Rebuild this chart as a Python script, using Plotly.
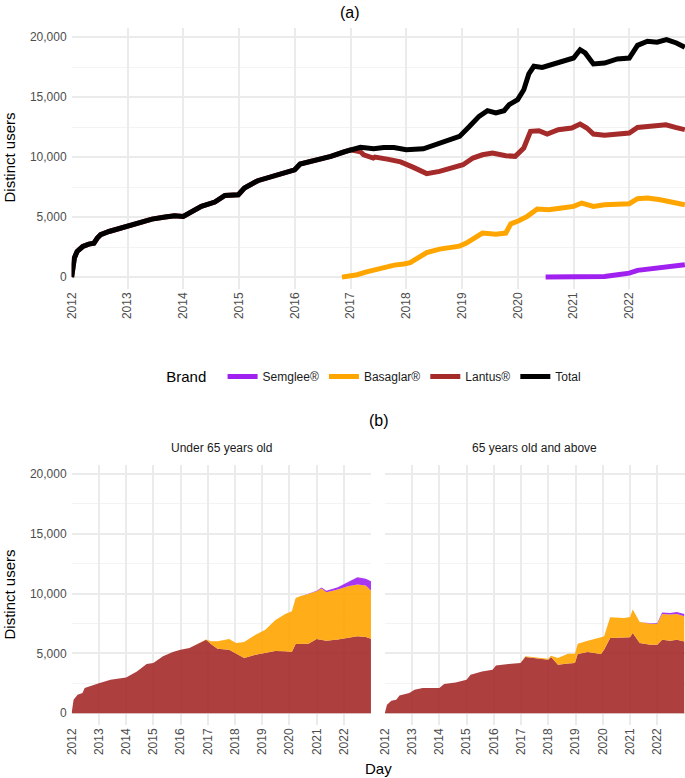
import plotly.graph_objects as go

# ---------------- data ----------------
year_ticks = [str(y) for y in range(2012, 2023)]
year_tick_dates = [f"{y}-01-01" for y in range(2012, 2023)]
y_tick_vals = [0, 5000, 10000, 15000, 20000]
y_tick_labels = ["0", "5,000", "10,000", "15,000", "20,000"]

brands = ["Semglee®", "Basaglar®", "Lantus®", "Total"]
brand_colors = {"Semglee®": "#A020F0", "Basaglar®": "#FFA500", "Lantus®": "#A52A2A", "Total": "#000000"}

# Panel (a): distinct users per brand
total_dates = ["2012-01-01", "2012-01-08", "2012-01-19", "2012-02-06", "2012-03-14", "2012-04-23", "2012-05-26",
               "2012-06-17", "2012-07-09", "2012-09-02", "2012-11-06", "2013-01-01", "2013-03-14", "2013-06-10",
               "2013-09-05", "2013-11-06", "2014-01-01", "2014-02-24", "2014-04-30", "2014-07-27", "2014-10-01",
               "2014-12-28", "2015-02-06", "2015-05-04", "2015-07-31", "2015-10-23", "2016-01-01", "2016-02-06",
               "2016-05-08", "2016-08-25", "2016-11-17", "2017-01-01", "2017-03-07", "2017-06-02", "2017-08-07",
               "2017-10-12", "2018-01-01", "2018-04-23", "2018-06-28", "2018-09-20", "2018-12-16", "2019-02-20",
               "2019-04-23", "2019-06-17", "2019-08-11", "2019-10-04", "2019-11-06", "2020-01-01", "2020-02-10",
               "2020-03-14", "2020-04-16", "2020-06-10", "2020-08-14", "2020-11-06", "2021-01-01", "2021-02-13",
               "2021-03-18", "2021-05-11", "2021-07-23", "2021-10-15", "2022-01-01", "2022-02-24", "2022-04-30",
               "2022-07-02", "2022-09-02", "2022-11-06", "2022-12-31"]
total_users = [0, 1000, 1600, 2140, 2550, 2750, 2830,
               3250, 3530, 3800, 4030, 4220, 4500, 4830,
               5000, 5110, 5050, 5470, 5890, 6250, 6800,
               6860, 7420, 8030, 8390, 8750, 8940, 9420,
               9700, 10060, 10420, 10610, 10810, 10690, 10800,
               10800, 10610, 10690, 10970, 11300, 11720, 12560,
               13390, 13860, 13670, 13860, 14360, 14780, 15610,
               16920, 17560, 17470, 17750, 18030, 18250, 18940,
               18670, 17750, 17830, 18170, 18250, 19300, 19640,
               19560, 19780, 19500, 19140]

# Lantus equals Total until Basaglar enters (late 2016)
lantus_dates = total_dates[:31] + [
    "2017-01-01", "2017-03-07", "2017-03-28", "2017-05-30", "2017-06-10", "2017-08-29", "2017-11-25",
    "2018-02-17", "2018-05-15", "2018-08-07", "2018-11-03", "2019-01-08", "2019-03-14", "2019-05-15",
    "2019-07-20", "2019-10-15", "2019-12-16", "2020-02-10", "2020-03-25", "2020-05-19", "2020-07-12",
    "2020-09-23", "2020-12-20", "2021-02-13", "2021-03-29", "2021-05-11", "2021-07-23", "2021-10-15",
    "2022-01-01", "2022-02-24", "2022-05-22", "2022-08-29", "2022-10-30", "2022-12-31"]
lantus_users = total_users[:31] + [
    10610, 10440, 10190, 9920, 10000, 9830, 9600,
    9140, 8620, 8810, 9140, 9360, 9920, 10190,
    10330, 10110, 10060, 10750, 12140, 12190, 11920,
    12280, 12420, 12750, 12420, 11920, 11810, 11920,
    12000, 12470, 12610, 12690, 12470, 12280]

basaglar_dates = ["2016-11-06", "2016-12-20", "2017-02-13", "2017-04-16", "2017-06-28", "2017-08-07", "2017-10-15",
                  "2017-12-16", "2018-01-27", "2018-05-15", "2018-08-07", "2018-12-16", "2019-01-30", "2019-05-15",
                  "2019-08-11", "2019-10-15", "2019-11-17", "2020-01-08", "2020-03-04", "2020-05-08", "2020-07-23",
                  "2020-10-15", "2021-01-01", "2021-02-24", "2021-05-11", "2021-07-23", "2022-01-01", "2022-02-24",
                  "2022-04-30", "2022-07-23", "2022-10-19", "2022-12-31"]
basaglar_users = [0, 50, 200, 440, 700, 860, 1000,
                  1100, 1200, 2050, 2330, 2580, 2830, 3670,
                  3580, 3670, 4440, 4690, 5060, 5670, 5610,
                  5750, 5890, 6170, 5890, 6030, 6110, 6530,
                  6580, 6440, 6220, 6030]

semglee_dates = ["2020-07-02", "2021-01-01", "2021-07-23", "2021-10-15", "2022-01-01", "2022-02-24",
                 "2022-06-13", "2022-09-27", "2022-12-31"]
semglee_users = [0, 0, 60, 190, 330, 560, 690, 890, 1030]

# Panel (b): stacked by age group
u65_dates = ["2012-01-01", "2012-01-27", "2012-03-21", "2012-05-26", "2012-06-24", "2012-09-13", "2013-01-01",
             "2013-06-06", "2014-01-01", "2014-05-26", "2014-10-04", "2015-01-01", "2015-05-11", "2015-09-20",
             "2016-01-01", "2016-04-30", "2016-09-13", "2016-11-06", "2016-12-09", "2017-02-13", "2017-05-11",
             "2017-10-15", "2018-01-15", "2018-05-04", "2018-10-04", "2019-02-13", "2019-06-24", "2019-11-06",
             "2020-02-03", "2020-03-25", "2020-05-22", "2020-09-13", "2021-01-01", "2021-03-07", "2021-05-11",
             "2021-10-12", "2022-02-24", "2022-07-02", "2022-10-23", "2022-12-31"]
u65_lantus = [0, 1120, 1540, 1680, 2100, 2290, 2510,
              2790, 2990, 3490, 4100, 4190, 4750, 5110,
              5310, 5450, 5870, 6050, 6140, 5780, 5390,
              5310, 5000, 4610, 4890, 5030, 5190, 5170,
              5110, 5780, 5780, 5800, 6200, 6150, 6060,
              6150, 6280, 6420, 6370, 6230]
u65_basaglar = [0, 0, 0, 0, 0, 0, 0,
                0, 0, 0, 0, 0, 0, 0,
                0, 0, 0, 0, 20, 230, 620,
                890, 870, 1340, 1670, 1950, 2570, 3130,
                3410, 3850, 4000, 4170, 3990, 4270, 4050,
                4180, 4330, 4330, 4300, 4020]
u65_semglee = [0] * 31 + [20, 50, 80, 120, 200, 370, 620, 560, 780]

o65_dates = ["2012-01-01", "2012-01-30", "2012-03-29", "2012-06-02", "2012-07-16", "2012-11-25", "2013-02-03",
             "2013-05-22", "2014-01-01", "2014-03-07", "2014-08-07", "2015-01-01", "2015-02-24", "2015-07-27",
             "2015-12-16", "2016-01-30", "2016-07-16", "2016-12-24", "2017-02-27", "2017-07-02", "2018-01-01",
             "2018-02-06", "2018-05-11", "2018-09-20", "2018-12-24", "2019-01-30", "2019-06-13", "2019-12-09",
             "2020-01-19", "2020-04-09", "2020-10-12", "2021-01-01", "2021-02-06", "2021-05-11", "2021-10-01",
             "2022-01-01", "2022-03-07", "2022-06-24", "2022-09-20", "2022-12-31"]
o65_lantus = [0, 700, 1030, 1120, 1480, 1680, 1960,
              2100, 2100, 2430, 2570, 2790, 3210, 3490,
              3630, 3990, 4100, 4190, 4690, 4610, 4470,
              4690, 4050, 4150, 4190, 4940, 5110, 4940,
              5310, 6280, 6280, 6340, 6700, 5870, 5730,
              5730, 6140, 6060, 6140, 6000]
o65_basaglar = [0] * 17 + [0, 60, 80, 80,
                           110, 560, 820, 780, 860, 950, 1400,
                           1110, 1740, 1680, 1710, 1960, 1750, 1750,
                           1750, 2160, 2180, 2160, 2100]
o65_semglee = [0] * 34 + [30, 60, 120, 140, 160, 200]

age_groups = ["Under 65 years old", "65 years old and above"]

# ---------------- figure ----------------
W, H = 685, 778
FONT = "Liberation Sans, Arial, Helvetica, sans-serif"
fig = go.Figure()

top_series = {
    "Semglee®": (semglee_dates, semglee_users),
    "Basaglar®": (basaglar_dates, basaglar_users),
    "Lantus®": (lantus_dates, lantus_users),
    "Total": (total_dates, total_users),
}
for b in brands:
    d, v = top_series[b]
    fig.add_trace(go.Scatter(x=d, y=v, mode="lines", name=b, xaxis="x", yaxis="y",
                             line=dict(color=brand_colors[b], width=5), legendgroup=b))

fill_colors = {"Lantus®": "rgba(165,42,42,0.9)", "Basaglar®": "rgba(255,165,0,0.9)",
               "Semglee®": "rgba(160,32,240,0.9)"}
panels = [("x2", "y2", u65_dates, {"Lantus®": u65_lantus, "Basaglar®": u65_basaglar, "Semglee®": u65_semglee}),
          ("x3", "y3", o65_dates, {"Lantus®": o65_lantus, "Basaglar®": o65_basaglar, "Semglee®": o65_semglee})]
for xa, ya, d, vals in panels:
    for b in ["Lantus®", "Basaglar®", "Semglee®"]:
        fig.add_trace(go.Scatter(x=d, y=vals[b], mode="lines", xaxis=xa, yaxis=ya, stackgroup=xa,
                                 line=dict(width=0, color=fill_colors[b]), fillcolor=fill_colors[b],
                                 showlegend=False, name=b, hoverinfo="skip"))

GRID = "#EBEBEB"
MINOR = "#F3F3F3"

def xaxis(domain):
    return dict(domain=domain, type="date", range=["2012-01-01", "2023-01-01"],
                tickvals=year_tick_dates, ticktext=year_ticks, tickangle=-90,
                tickfont=dict(size=12, color="#4D4D4D", family=FONT),
                showgrid=True, gridcolor=GRID, gridwidth=1.5, zeroline=False, showline=False, ticks="")

def yaxis(domain, labels=True, anchor="x"):
    return dict(domain=domain, anchor=anchor, range=[-990, 20790], tickvals=y_tick_vals,
                ticktext=y_tick_labels, showticklabels=labels, ticklabelstandoff=4,
                tickfont=dict(size=12, color="#4D4D4D", family=FONT),
                showgrid=True, gridcolor=GRID, gridwidth=1.5, zeroline=False, showline=False, ticks="",
                minor=dict(dtick=2500, tick0=0, showgrid=True, gridcolor=MINOR, gridwidth=0.8, ticks=""))

top_dom = [1 - 289 / H, 1 - 27.5 / H]
bot_dom = [1 - 725 / H, 1 - 464.5 / H]

fig.update_layout(
    width=W, height=H, margin=dict(l=0, r=0, t=0, b=0),
    paper_bgcolor="white", plot_bgcolor="white",
    font=dict(family=FONT, color="#1A1A1A"),
    xaxis=dict(xaxis([65.3 / W, 1.0]), anchor="y"),
    yaxis=yaxis(top_dom, anchor="x"),
    xaxis2=dict(xaxis([65.3 / W, 367.8 / W]), anchor="y2"),
    yaxis2=yaxis(bot_dom, anchor="x2"),
    xaxis3=dict(xaxis([381.7 / W, 684.5 / W]), anchor="y3"),
    yaxis3=dict(yaxis(bot_dom, labels=False, anchor="x3"), matches="y2"),
    legend=dict(orientation="h", x=372 / W, xanchor="center", y=1 - 377 / H, yanchor="middle",
                title=dict(text="Brand  ", font=dict(size=15, color="#000000"), side="left"),
                font=dict(size=12, color="#1A1A1A"), bgcolor="rgba(0,0,0,0)", itemwidth=30),
    hovermode=False,
)

ann = [
    dict(text="(a)", x=347 / W, y=1 - 13 / H, font=dict(size=16, color="#000000")),
    dict(text="(b)", x=376 / W, y=1 - 420 / H, font=dict(size=16, color="#000000")),
    dict(text=age_groups[0], x=216.5 / W, y=1 - 448 / H, font=dict(size=12, color="#1A1A1A")),
    dict(text=age_groups[1], x=533 / W, y=1 - 448 / H, font=dict(size=12, color="#1A1A1A")),
    dict(text="Distinct users", x=0, xanchor="left", xshift=-9, y=1 - 158 / H, textangle=-90,
         font=dict(size=15, color="#000000")),
    dict(text="Distinct users", x=0, xanchor="left", xshift=-9, y=1 - 595 / H, textangle=-90,
         font=dict(size=15, color="#000000")),
    dict(text="Day", x=375 / W, y=1 - 768 / H, font=dict(size=15, color="#000000")),
]
for a in ann:
    a.setdefault("xanchor", "center")
    a.update(xref="paper", yref="paper", showarrow=False, yanchor="middle")
fig.update_layout(annotations=ann)

fig.write_html("out.html")
